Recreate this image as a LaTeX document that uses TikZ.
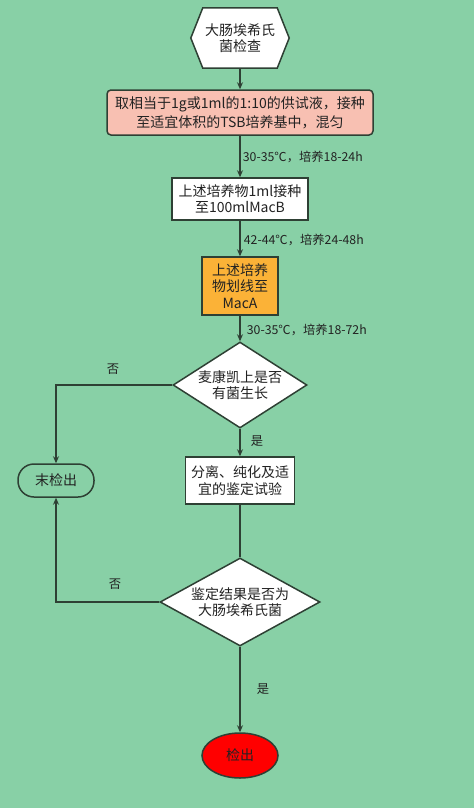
\documentclass[tikz,border=0pt]{standalone}
\usepackage{fontspec}
\setmainfont{Noto Sans CJK SC}
\usetikzlibrary{shapes.geometric,arrows.meta}
\definecolor{bg}{HTML}{88D0A6}
\definecolor{ln}{HTML}{2E4034}
\definecolor{salmon}{HTML}{F8C0B2}
\definecolor{orng}{HTML}{FBB237}
\definecolor{txt}{HTML}{222222}
\tikzset{
  boxstyle/.style={draw=ln, line width=1.5pt, align=center, text=txt, font=\fontsize{14}{16.5}\selectfont, inner sep=0pt},
  conn/.style={draw=ln, line width=1.8pt, -{Stealth[length=7pt,width=6pt]}},
  plainline/.style={draw=ln, line width=1.8pt},
  lbl/.style={text=txt, font=\fontsize{12.3}{14}\selectfont, inner sep=0pt}
}
\begin{document}
\begin{tikzpicture}[x=1pt,y=-1pt]
\fill[bg] (0,0) rectangle (474,808);
\useasboundingbox (0,0) rectangle (474,808);
% start hexagon
\node[inner sep=0pt, minimum width=98pt, minimum height=60pt] (start) at (240,38) {};
\filldraw[fill=white, draw=ln, line width=1.5pt] (start.west) -- ([xshift=12pt]start.north west) -- ([xshift=-12pt]start.north east) -- (start.east) -- ([xshift=-12pt]start.south east) -- ([xshift=12pt]start.south west) -- cycle;
\node[align=center, text=txt, inner sep=0pt, font=\fontsize{14}{16.5}\selectfont] (starttext) at (start.center) {大肠埃希氏\\菌检查};
% box1
\node[boxstyle, fill=salmon, rounded corners=4pt, minimum width=266pt, minimum height=45pt, font=\fontsize{14}{19}\selectfont] (b1) at (240,112.5) {取相当于1g或1ml的1:10的供试液，接种\\至适宜体积的TSB培养基中，混匀};
% box2
\node[boxstyle, fill=white, minimum width=136pt, minimum height=42pt] (b2) at (240,199) {上述培养物1ml接种\\至100mlMacB};
% box3
\node[boxstyle, fill=orng, minimum width=76pt, minimum height=58pt] (b3) at (240,286) {上述培养\\物划线至\\MacA};
% diamond1
\node[boxstyle, fill=white, diamond, aspect=1.56, minimum width=134pt, minimum height=86pt] (d1) at (240,385) {麦康凯上是否\\有菌生长};
% box4
\node[boxstyle, fill=white, minimum width=109pt, minimum height=47pt] (b4) at (240,480.5) {分离、纯化及适\\宜的鉴定试验};
% not detected
\node[boxstyle, fill=bg, rounded corners=16pt, minimum width=76pt, minimum height=33pt] (nd) at (56,480.5) {末检出};
% diamond2
\node[boxstyle, fill=white, diamond, aspect=1.82, minimum width=160pt, minimum height=88pt] (d2) at (240,602) {鉴定结果是否为\\大肠埃希氏菌};
% ellipse
\node[boxstyle, fill=red, ellipse, minimum width=76pt, minimum height=45pt] (det) at (240,755.5) {检出};
% connectors
\draw[conn] (start.south) -- (b1.north);
\draw[conn] (b1.south) -- (b2.north) node[lbl, pos=0.5, anchor=west, xshift=2pt] (l1) {30-35℃，培养18-24h};
\draw[conn] (b2.south) -- (b3.north) node[lbl, pos=0.55, anchor=west, xshift=3pt] (l2) {42-44℃，培养24-48h};
\draw[conn] (b3.south) -- (d1.north) node[lbl, pos=0.55, anchor=west, xshift=6pt] (l3) {30-35℃，培养18-72h};
\draw[conn] (d1.west) -| (nd.north);
\node[lbl] (no1) at (113,369) {否};
\draw[conn] (d1.south) -- (b4.north) node[lbl, pos=0.45, anchor=west, xshift=10pt] (yes1) {是};
\draw[plainline] (b4.south) -- (d2.north);
\draw[conn] (d2.west) -| (nd.south);
\node[lbl] (no2) at (115,584) {否};
\draw[conn] (d2.south) -- (det.north) node[lbl, pos=0.5, anchor=west, xshift=16pt] (yes2) {是};
\end{tikzpicture}
\end{document}
